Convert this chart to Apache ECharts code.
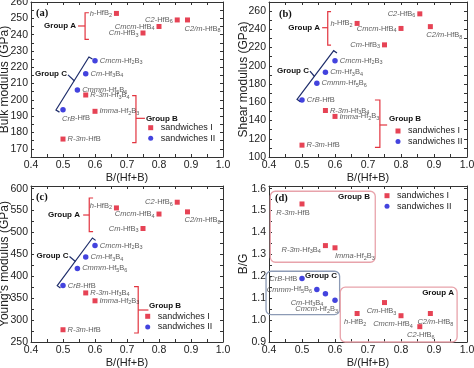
<!DOCTYPE html>
<html><head><meta charset="utf-8">
<script src="https://cdn.jsdelivr.net/npm/echarts@6/dist/echarts.min.js"></script>
<style>html,body{margin:0;padding:0;background:#fff}#c{width:474px;height:368px}</style>
</head><body><div id="c"></div>
<script>
// ---------- data ----------
const namesI  = ['h-HfB2','Cm-HfB3','Cmcm-HfB4','C2-HfB6','C2/m-HfB8','R-3m-Hf3B4','Imma-Hf2B3','R-3m-HfB'];
const xI      = [0.667, 0.75, 0.8, 0.857, 0.889, 0.571, 0.6, 0.5];
const namesII = ['Cmcm-Hf2B3','Cm-Hf3B4','Cmmm-Hf5B6','CrB-HfB'];
const xII     = [0.6, 0.571, 0.545, 0.5];
const bulkI   = [253, 241, 245, 249, 249, 203, 193, 176];
const bulkII  = [224, 216, 206, 194];
const shearI  = [246.5, 223, 241, 257, 243, 151, 144.5, 113];
const shearII = [205.5, 193, 181, 162.5];
const youngI  = [556, 509, 542, 569, 547, 362, 344, 278];
const youngII = [470, 444, 418, 379];
const bgI     = [1.03, 1.08, 1.02, 0.97, 1.03, 1.34, 1.33, 1.53];
const bgII    = [1.09, 1.12, 1.14, 1.19];
const xTicks  = [0.4, 0.5, 0.6, 0.7, 0.8, 0.9, 1.0];
const seriesNames = ['sandwiches I', 'sandwiches II'];
const xTitle = 'B/(Hf+B)';
const yTitles = ['Bulk modulus (GPa)', 'Shear modulus (GPa)', "Young's modulus (GPa)", 'B/G'];
const panelTags = ['(a)', '(b)', '(c)', '(d)'];

// ---------- layout / style ----------
const FONT = 'Liberation Sans, Arial, sans-serif';
const RED = '#e0142b', BLUE = '#1414d6';
const BR_RED = '#e2343f', BR_NAVY = '#1e2d6b';
const GRIDS = [
  {left:31, top:2, width:192, height:155},
  {left:269, top:2, width:198, height:155},
  {left:31, top:186, width:192, height:156},
  {left:269, top:186, width:198, height:156}
];
const yCfg = [
  {min:165, max:260, interval:5, step:10, dec:0},
  {min:100, max:270, interval:10, step:20, dec:0},
  {min:250, max:606, interval:25, step:50, dec:0},
  {min:0.9, max:1.612, interval:0.05, step:0.1, dec:1}
];
const yTitleX = [5, 244, 5, 244];
// label placement kinds per point [kind, dx, dy]
const lpI = [
  [['L'],['L'],['L'],['L'],['BR',-3,0],['R'],['R'],['R']],
  [['L'],['L'],['L'],['L'],['BR',-4,0],['R'],['R'],['R']],
  [['L',0,-2],['L'],['L'],['L'],['BR',-3,0],['R'],['R'],['R']],
  [['B',-2,0],['B',-3,0],['B',-8,0],['B',1,0],['B',5,0],['L',0,4],['BR',0,0],['B',-9,0]]
];
const lpII = [
  [['R'],['R'],['R'],['BR',-1,0]],
  [['R'],['R'],['R'],['R']],
  [['R'],['R'],['R'],['R']],
  [['BL',3,0],['BL',-2,0],['L'],['L']]
];
// annotations (data coordinates)
const annot = [
  { lines:[
      {c:BR_RED, p:[[0.581,253.4],[0.569,253.4],[0.569,237.1],[0.581,237.1]]},
      {c:BR_RED, p:[[0.547,245.3],[0.569,245.3]]},
      {c:BR_NAVY, p:[[0.489,192.5],[0.478,193.8],[0.581,226.3],[0.592,225.0]]},
      {c:BR_NAVY, p:[[0.5156,215.3],[0.5359,211.6]]},
      {c:BR_RED, p:[[0.716,202.6],[0.728,202.6],[0.728,173.8],[0.716,173.8]]},
      {c:BR_RED, p:[[0.728,188.7],[0.756,188.7]]}
    ],
    texts:[
      {t:'Group A', p:[0.541,245.3], a:'right'},
      {t:'Group C', p:[0.5125,215.9], a:'right'},
      {t:'Group B', p:[0.759,188.7], a:'left'}
    ], boxes:[] },
  { lines:[
      {c:BR_RED, p:[[0.588,259.4],[0.578,259.4],[0.578,222.8],[0.588,222.8]]},
      {c:BR_RED, p:[[0.561,241.8],[0.578,241.8]]},
      {c:BR_NAVY, p:[[0.495,160.7],[0.485,163.3],[0.596,216.6],[0.606,214.0]]},
      {c:BR_NAVY, p:[[0.524,194.3],[0.538,188.3]]},
      {c:BR_RED, p:[[0.721,162.5],[0.736,162.5],[0.736,110.6],[0.721,110.6]]},
      {c:BR_RED, p:[[0.736,135.1],[0.758,135.1]]}
    ],
    texts:[
      {t:'Group A', p:[0.555,241.8], a:'right'},
      {t:'Group C', p:[0.521,194.6], a:'right'},
      {t:'Group B', p:[0.764,142.4], a:'left'}
    ], boxes:[] },
  { lines:[
      {c:BR_RED, p:[[0.594,578.6],[0.582,578.6],[0.582,501.7],[0.594,501.7]]},
      {c:BR_RED, p:[[0.563,539.8],[0.582,539.8]]},
      {c:BR_NAVY, p:[[0.492,373.1],[0.482,378.5],[0.592,487.3],[0.602,481.9]]},
      {c:BR_NAVY, p:[[0.5203,445.1],[0.5388,433.7]]},
      {c:BR_RED, p:[[0.722,376.2],[0.735,376.2],[0.735,270.5],[0.722,270.5]]},
      {c:BR_RED, p:[[0.735,323],[0.767,323]]}
    ],
    texts:[
      {t:'Group A', p:[0.553,539.8], a:'right'},
      {t:'Group C', p:[0.5172,446.3], a:'right'},
      {t:'Group B', p:[0.769,332], a:'left'}
    ], boxes:[] },
  { lines:[],
    texts:[
      {t:'Group B', p:[0.706,1.563], a:'right'},
      {t:'Group C', p:[0.606,1.203], a:'right'},
      {t:'Group A', p:[0.961,1.124], a:'right'}
    ],
    boxes:[
      {c:'#e8a3ab', x0:0.404, x1:0.722, y0:1.264, y1:1.588},
      {c:'#8c9ab5', x0:0.391, x1:0.614, y0:1.025, y1:1.223},
      {c:'#e8a3ab', x0:0.616, x1:0.970, y0:0.9, y1:1.150}
    ] }
];
const legendPos = [{left:148.2, top:122.4},{left:395.5, top:125.7},{left:145.2, top:311},{left:384.5, top:190.4}];
const tagPos = [[36,14],[279,15],[36,198],[275,199]];

// ---------- helpers ----------
function richName(name){
  const i = name.lastIndexOf('-');
  const sg = name.slice(0,i), f = name.slice(i);
  let out = '{it|' + sg + '}';
  f.replace(/(\D+)|(\d+)/g, (m,a,b) => { out += a ? '{n|' + a + '}' : '{s|' + b + '}'; return m; });
  return out;
}
const RICH = {
  it:{fontStyle:'italic', fontSize:7.5, fontFamily:FONT, color:'#333', lineHeight:10},
  n:{fontSize:7.5, fontFamily:FONT, color:'#333', lineHeight:10},
  s:{fontSize:5.5, fontFamily:FONT, color:'#333', lineHeight:5.5, verticalAlign:'bottom'}
};
function labelOpt(lp){
  const k = lp[0], dx = lp[1]||0, dy = lp[2]||0;
  const o = {show:true, rich:RICH, formatter:(p)=>richName(p.name), offset:[dx,dy]};
  if (k==='L'){ o.position='left'; o.distance=2; }
  else if (k==='R'){ o.position='right'; o.distance=2; }
  else if (k==='B'){ o.position='bottom'; o.distance=1; }
  else if (k==='BL'){ o.position='bottom'; o.distance=1; o.align='right'; }
  else if (k==='BR'){ o.position='bottom'; o.distance=1; o.align='left'; }
  return o;
}
function isStep(v, step){ const r = v/step; return Math.abs(r - Math.round(r)) < 1e-6; }

const ySetsI = [bulkI, shearI, youngI, bgI];
const ySetsII = [bulkII, shearII, youngII, bgII];

const option = {
  animation:false,
  backgroundColor:'#fff',
  textStyle:{fontFamily:FONT},
  grid: GRIDS.map(g => Object.assign({containLabel:false, outerBoundsMode:'none'}, g)),
  xAxis: [], yAxis: [], series: [], legend: [], graphic: []
};

const axisLineStyle = {show:true, lineStyle:{color:'#333', width:1}};
for (let p=0; p<4; p++){
  const yc = yCfg[p];
  const g = GRIDS[p];
  option.xAxis.push({
    gridIndex:p, type:'value', min:0.4, max:1.0, interval:0.05, position:'bottom',
    name:xTitle, nameLocation:'middle', nameGap:15, nameMoveOverlap:false,
    nameTextStyle:{fontSize:11, color:'#222', fontFamily:FONT},
    axisLine:axisLineStyle, splitLine:{show:false},
    axisTick:{show:true, inside:true, length:3, lineStyle:{color:'#333'}},
    axisLabel:{show:true, margin:3, fontSize:10.5, color:'#222', fontFamily:FONT,
      formatter:(v)=> (isStep(v,0.1) && xTicks.some(t=>Math.abs(t-v)<1e-6)) ? v.toFixed(1) : ''}
  });
  option.xAxis.push({
    gridIndex:p, type:'value', min:0.4, max:1.0, interval:0.05, position:'top',
    axisLine:axisLineStyle, splitLine:{show:false},
    axisTick:{show:true, inside:true, length:3, lineStyle:{color:'#333'}},
    axisLabel:{show:false}
  });
  option.yAxis.push({
    gridIndex:p, type:'value', min:yc.min, max:yc.max, interval:yc.interval, position:'left',
    axisLine:axisLineStyle, splitLine:{show:false},
    axisTick:{show:true, inside:true, length:3, lineStyle:{color:'#333'}},
    axisLabel:{show:true, margin:3, fontSize:10.5, color:'#222', fontFamily:FONT,
      formatter:(v)=> isStep(v, yc.step) ? v.toFixed(yc.dec) : ''}
  });
  option.yAxis.push({
    gridIndex:p, type:'value', min:yc.min, max:yc.max, interval:yc.interval, position:'right',
    axisLine:axisLineStyle, splitLine:{show:false},
    axisTick:{show:true, inside:true, length:3, lineStyle:{color:'#333'}},
    axisLabel:{show:false}
  });
  const xi = p*2, yi = p*2;
  const an = annot[p];
  option.series.push({
    type:'custom', xAxisIndex:xi, yAxisIndex:yi, z:1, silent:true,
    data:[[0.7, yc.min]],
    renderItem:(params, api)=>{
      const children = [];
      an.boxes.forEach(b=>{
        const a1 = api.coord([b.x0, b.y1]), a2 = api.coord([b.x1, b.y0]);
        children.push({type:'rect', shape:{x:a1[0], y:a1[1], width:a2[0]-a1[0], height:a2[1]-a1[1], r:5},
          style:{fill:'rgba(255,255,255,0)', stroke:b.c, lineWidth:1.3}});
      });
      an.lines.forEach(l=>{
        children.push({type:'polyline', shape:{points:l.p.map(q=>api.coord(q))},
          style:{fill:null, stroke:l.c, lineWidth:1.2}});
      });
      an.texts.forEach(t=>{
        const c = api.coord(t.p);
        children.push({type:'text', x:c[0], y:c[1], style:{text:t.t, fill:'#111',
          font:'bold 8px ' + FONT, align:t.a, verticalAlign:'middle',
          textAlign:t.a, textVerticalAlign:'middle'}});
      });
      return {type:'group', children};
    }
  });
  option.series.push({
    name:seriesNames[0], type:'scatter', xAxisIndex:xi, yAxisIndex:yi, z:3,
    symbol:'rect', symbolSize:5, itemStyle:{color:RED},
    data: xI.map((x,i)=>({name:namesI[i], value:[x, ySetsI[p][i]], label:labelOpt(lpI[p][i])}))
  });
  option.series.push({
    name:seriesNames[1], type:'scatter', xAxisIndex:xi, yAxisIndex:yi, z:3,
    symbol:'circle', symbolSize:5.5, itemStyle:{color:BLUE},
    data: xII.map((x,i)=>({name:namesII[i], value:[x, ySetsII[p][i]], label:labelOpt(lpII[p][i])}))
  });
  option.legend.push({
    left:legendPos[p].left, top:legendPos[p].top, orient:'vertical', padding:0, itemGap:0,
    itemWidth:5, itemHeight:5, selectedMode:false,
    textStyle:{fontSize:9, color:'#222', fontFamily:FONT, lineHeight:10.6, padding:[0,0,0,2.5]},
    data:[{name:seriesNames[0], icon:'rect'}, {name:seriesNames[1], icon:'circle'}]
  });
  option.graphic.push({type:'text', left:tagPos[p][0], top:tagPos[p][1]-6,
    style:{text:panelTags[p], font:'bold 10.5px Liberation Serif, serif', fill:'#111'}});
  option.graphic.push({type:'text', x:yTitleX[p], y:g.top + g.height/2, rotation:Math.PI/2,
    style:{text:yTitles[p], font:'12px ' + FONT, fill:'#222', align:'center', verticalAlign:'middle',
      textAlign:'center', textVerticalAlign:'middle'}});
}

const chart = echarts.init(document.getElementById('c'), null, {renderer:'canvas'});
chart.setOption(option);
</script></body></html>
